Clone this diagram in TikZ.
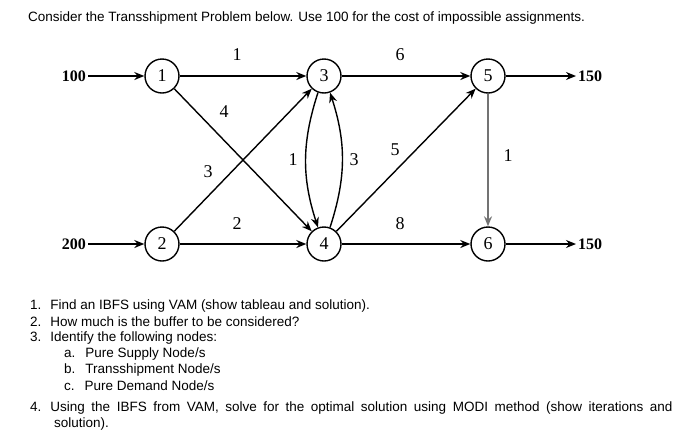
\documentclass[tikz,border=0pt]{standalone}
\usepackage{fontspec}
\setmainfont{Liberation Sans}
\newfontfamily\serifnum{Liberation Serif}
\usetikzlibrary{arrows.meta}
\begin{document}
\begin{tikzpicture}[x=1pt,y=-1pt,
  nd/.style={circle,draw,line width=1.4pt,minimum size=34pt,inner sep=0pt,font=\serifnum\fontsize{18}{18}\selectfont},
  ed/.style={line width=1.4pt,-{Stealth[length=10pt,width=8pt]}},
  lb/.style={font=\serifnum\fontsize{18}{18}\selectfont},
  sd/.style={font=\serifnum\bfseries\fontsize{16}{16}\selectfont,inner sep=2pt},
  tx/.style={anchor=west,font=\fontsize{13.5}{15}\selectfont,inner sep=0pt}]
\useasboundingbox (0,0) rectangle (696,445);
\node[tx] (title) at (28,18) {Consider the Transshipment Problem below. Use 100 for the cost of impossible assignments.};
\node[nd] (n1) at (162,76) {1};
\node[nd] (n2) at (162,244) {2};
\node[nd] (n3) at (324,76) {3};
\node[nd] (n4) at (324,244) {4};
\node[nd] (n5) at (488,76) {5};
\node[nd] (n6) at (488,244) {6};
\node[sd,anchor=east] (s1) at (88,76) {100};
\node[sd,anchor=east] (s2) at (88,244) {200};
\node[sd,anchor=west] (d5) at (576,76) {150};
\node[sd,anchor=west] (d6) at (576,244) {150};
\draw[ed] (s1) -- (n1);
\draw[ed] (s2) -- (n2);
\draw[ed] (n5) -- (d5);
\draw[ed] (n6) -- (d6);
\draw[ed] (n1) -- (n3);
\draw[ed] (n1) -- (n4);
\draw[ed] (n2) -- (n3);
\draw[ed] (n2) -- (n4);
\draw[ed] (n3) -- (n5);
\draw[ed] (n4) -- (n5);
\draw[ed] (n4) -- (n6);
\draw[ed,draw=black!55] (n5) -- (n6);
\draw[ed] (n3.250) to[bend right=18] (n4.110);
\draw[ed] (n4.70) to[bend right=18] (n3.290);
\node[lb] (l13) at (237,55) {1};
\node[lb] (l14) at (224,112) {4};
\node[lb] (l23) at (208,172) {3};
\node[lb] (l24) at (237,224) {2};
\node[lb] (l34) at (293,160) {1};
\node[lb] (l43) at (354,160) {3};
\node[lb] (l35) at (400,55) {6};
\node[lb] (l45) at (395,150) {5};
\node[lb] (l46) at (400,224) {8};
\node[lb] (l56) at (508,156) {1};
\node[tx] (q1) at (30,306) {1.\hspace{9pt}Find an IBFS using VAM (show tableau and solution).};
\node[tx] (q2) at (30,322) {2.\hspace{9pt}How much is the buffer to be considered?};
\node[tx] (q3) at (30,338) {3.\hspace{9pt}Identify the following nodes:};
\node[tx] (qa) at (64,354) {a.\hspace{10pt}Pure Supply Node/s};
\node[tx] (qb) at (64,370) {b.\hspace{10pt}Transshipment Node/s};
\node[tx] (qc) at (64,386) {c.\hspace{10pt}Pure Demand Node/s};
\node[tx] (q4) at (30,408) {4.\hspace{9pt}\makebox[622pt][s]{Using the IBFS from VAM, solve for the optimal solution using MODI method (show iterations and}};
\node[tx] (q4b) at (54,424) {solution).};
\end{tikzpicture}
\end{document}
